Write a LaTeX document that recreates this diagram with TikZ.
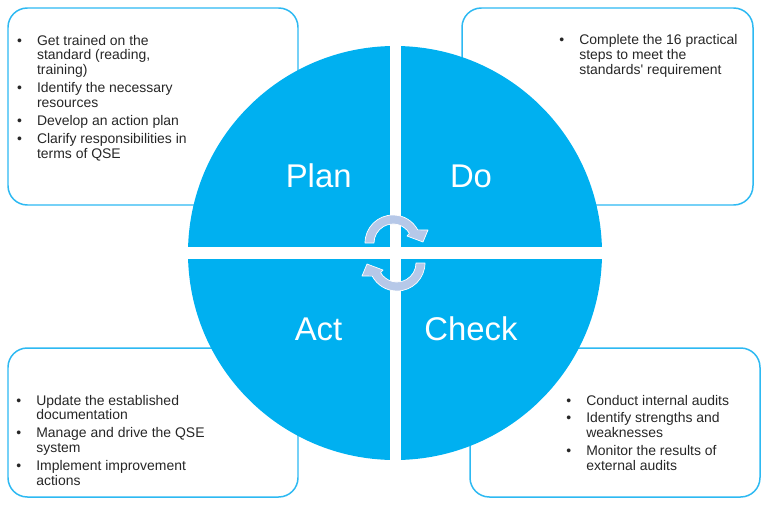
\documentclass[tikz,border=0pt]{standalone}
\usepackage{fontspec}
\setmainfont{Liberation Sans}
\usetikzlibrary{positioning}
\definecolor{pdcablue}{RGB}{0,176,240}
\definecolor{boxblue}{RGB}{45,185,242}
\definecolor{arrowgray}{RGB}{182,200,232}
\definecolor{notegray}{RGB}{38,38,38}
\newcommand{\bull}{\textbullet}

\begin{document}
\begin{tikzpicture}[x=0.02cm, y=0.02cm,
    notebox/.style={draw=boxblue, line width=0.85pt, rounded corners=11pt},
    phase/.style={text=white, font=\fontsize{18.7pt}{22pt}\selectfont, anchor=base, inner sep=0pt},
    notes/.style={text=notegray, font=\fontsize{7.94pt}{8.5pt}\selectfont, anchor=base west, inner sep=0pt},
    turnarrow/.style={fill=arrowgray, draw=white, line width=0.4pt, line join=round}]
    \useasboundingbox (0,0) rectangle (768,505);
    % Note boxes
    \draw[notebox] (8,300) rectangle (298,497);
    \draw[notebox] (462,300) rectangle (753,497);
    \draw[notebox] (8,8) rectangle (298,157);
    \draw[notebox] (470,8) rectangle (760,157);

    % Circle split in four
    \fill[pdcablue] (395,252) circle (207);
    \begin{scope}
      \clip (395,252) circle (208);
      \fill[white] (389.5,0) rectangle (400.5,505);
      \fill[white] (0,246.3) rectangle (768,257.7);
    \end{scope}

    % Phase labels
    \node[phase] (plan) at (318.7,318) {Plan};
    \node[phase] (do) at (471,318) {Do};
    \node[phase] (act) at (318.5,165) {Act};
    \node[phase] (check) at (471,165) {Check};

    % Turning arrows
    \fill[turnarrow, shift={(393,262)}] (180:28) arc[start angle=180, end angle=28, radius=28]
      -- (35,13) -- (30,1) -- (14,7) -- (30:19) arc[start angle=30, end angle=180, radius=19] -- cycle;
    \fill[turnarrow, shift={(397,242)}] (0:28) arc[start angle=0, end angle=-152, radius=28]
      -- (-35,-13) -- (-30,-1) -- (-14,-7) -- (210:19) arc[start angle=210, end angle=360, radius=19] -- cycle;

    % Notes
    \node[notes] (plannotes) at (16.7,460) {\begin{tabular}[t]{@{}p{0.4cm}@{}l@{}}
      \bull & Get trained on the\\
            & standard (reading,\\
            & training)\\[1.7pt]
      \bull & Identify the necessary\\
            & resources\\[1.7pt]
      \bull & Develop an action plan\\[1.7pt]
      \bull & Clarify responsibilities in\\
            & terms of QSE
    \end{tabular}};
    \node[notes] (donotes) at (559,460.5) {\begin{tabular}[t]{@{}p{0.4cm}@{}l@{}}
      \bull & Complete the 16 practical\\
            & steps to meet the\\
            & standards\textquotesingle{} requirement
    \end{tabular}};
    \node[notes] (actnotes) at (16,100) {\begin{tabular}[t]{@{}p{0.4cm}@{}l@{}}
      \bull & Update the established\\
            & documentation\\[1.7pt]
      \bull & Manage and drive the QSE\\
            & system\\[1.7pt]
      \bull & Implement improvement\\
            & actions
    \end{tabular}};
    \node[notes] (checknotes) at (566,100) {\begin{tabular}[t]{@{}p{0.4cm}@{}l@{}}
      \bull & Conduct internal audits\\[1.7pt]
      \bull & Identify strengths and\\
            & weaknesses\\[1.7pt]
      \bull & Monitor the results of\\
            & external audits
    \end{tabular}};
\end{tikzpicture}
\end{document}
